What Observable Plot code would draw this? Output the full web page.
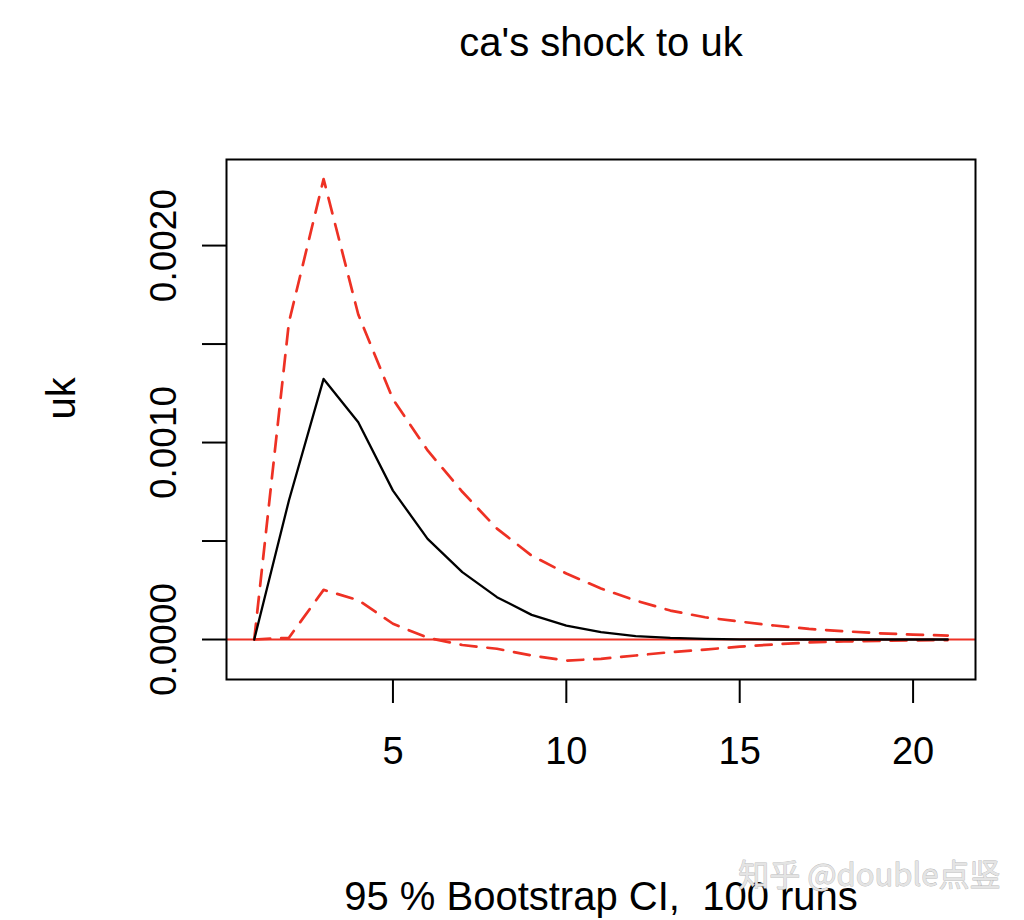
<!DOCTYPE html>
<html>
<head>
<meta charset="utf-8">
<script src="https://cdn.jsdelivr.net/npm/d3@7"></script>
<script src="https://cdn.jsdelivr.net/npm/@observablehq/plot@0.6"></script>
<style>
  html, body { margin: 0; padding: 0; background: #fff; }
  svg text { white-space: pre; }
</style>
</head>
<body>
<div id="chart"></div>
<script>
const steps = [1,2,3,4,5,6,7,8,9,10,11,12,13,14,15,16,17,18,19,20,21];
const irf = [0, 0.000706, 0.001323, 0.001103, 0.000756, 0.000511, 0.000342, 0.000215, 0.000125, 0.000071, 0.000037, 0.000017, 0.000008, 0.000003, 0.000001, 0, 0, 0, 0, 0, 0];
const upper = [0, 0.00161, 0.002338, 0.00165, 0.00122, 0.00096, 0.00075, 0.000563, 0.000426, 0.000335, 0.000259, 0.000198, 0.000147, 0.000113, 0.000091, 0.000071, 0.000054, 0.000042, 0.000032, 0.000025, 0.00002];
const lower = [0, 0.000009, 0.000252, 0.0002, 0.00008, 0.000009, -0.000028, -0.000047, -0.000081, -0.000107, -0.000098, -0.000081, -0.000064, -0.000051, -0.000036, -0.000025, -0.000015, -0.00001, -0.000007, -0.000004, -0.000003];
const xTicks = [5, 10, 15, 20];
const yTicks = [0, 0.0005, 0.001, 0.0015, 0.002];
const yLabels = [0, 0.001, 0.002];
const title = "ca's shock to uk";
const xTitle = "95 % Bootstrap CI,  100 runs";
const yTitle = "uk";
const watermark = "知乎 @double点竖";

const rows = steps.map((s, i) => ({step: s, irf: irf[i], upper: upper[i], lower: lower[i]}));
const red = "#ee3124";
const font = "'Liberation Sans', Arial, Helvetica, sans-serif";

const chart = Plot.plot({
  width: 1024,
  height: 920,
  marginLeft: 226,
  marginRight: 49,
  marginTop: 159,
  marginBottom: 241,
  style: {fontFamily: font, background: "#fff", color: "#000"},
  x: {domain: [0.2, 21.8]},
  y: {domain: [-0.000203, 0.002437]},
  marks: [
    Plot.ruleY([0], {stroke: red, strokeWidth: 2.2}),
    Plot.line(rows, {x: "step", y: "upper", stroke: red, strokeWidth: 2.7, strokeDasharray: "16,11"}),
    Plot.line(rows, {x: "step", y: "lower", stroke: red, strokeWidth: 2.7, strokeDasharray: "16,11"}),
    Plot.line(rows, {x: "step", y: "irf", stroke: "#000", strokeWidth: 2.3}),
    Plot.frame({stroke: "#000", strokeWidth: 2}),
    Plot.axisX({ticks: xTicks, tickSize: 24, tickPadding: 34, fontSize: 38, strokeWidth: 2, label: null, tickFormat: d3.format("d")}),
    Plot.axisY({ticks: yTicks, tickSize: 24, strokeWidth: 2, label: null, tickFormat: () => ""}),
    Plot.text(yLabels, {y: d => d, frameAnchor: "left", dx: -62, rotate: -90, text: d3.format(".4f"), fontSize: 37, textAnchor: "middle", lineAnchor: "middle", fill: "#000"}),
    Plot.text([title], {frameAnchor: "top", dy: -116, text: d => d, fontSize: 40, lineAnchor: "middle", fill: "#000"}),
    Plot.text([xTitle], {frameAnchor: "bottom", dy: 218, text: d => d, fontSize: 40, lineAnchor: "middle", fill: "#000"}),
    Plot.text([yTitle], {frameAnchor: "left", dx: -164, rotate: -90, text: d => d, fontSize: 40, lineAnchor: "middle", fill: "#000"}),
    Plot.text([watermark], {frameAnchor: "bottom-right", dx: 25, dy: 197, text: d => d, fontSize: 31, textAnchor: "end", lineAnchor: "middle", fill: "#e4e4e4", stroke: "#b8b8b8", strokeWidth: 0.8, fontFamily: "'Noto Sans CJK SC', 'Liberation Sans', sans-serif"})
  ]
});
document.getElementById("chart").appendChild(chart);
</script>
</body>
</html>
